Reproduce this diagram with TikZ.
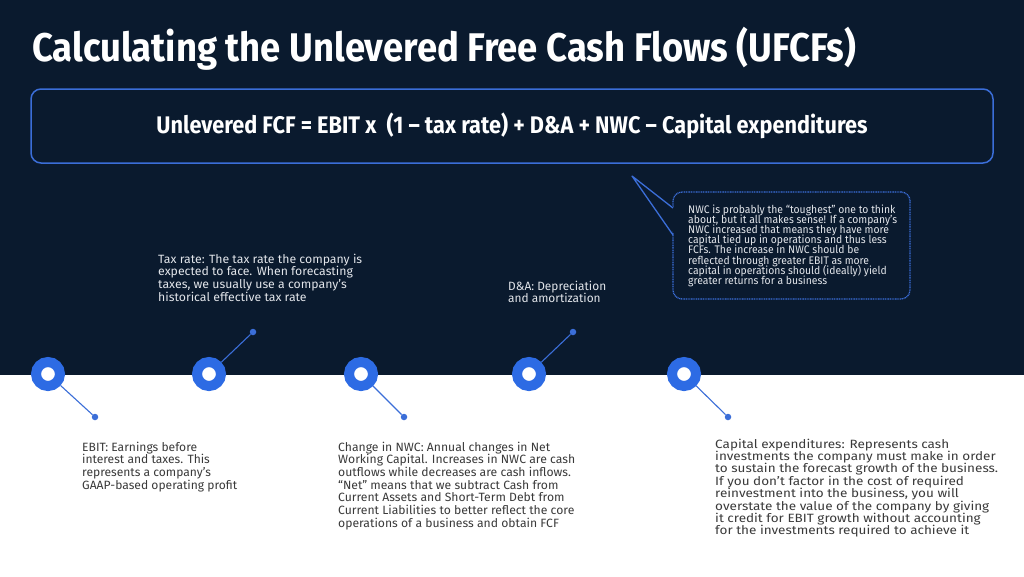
\documentclass[tikz,border=0pt]{standalone}
\usepackage{fontspec}
\setmainfont{Fira Sans}
\usepackage{graphicx}
\usetikzlibrary{calc, positioning}
\definecolor{uf_navy}{RGB}{10,26,46}
\definecolor{uf_blue}{RGB}{45,107,228}
\definecolor{uf_line}{RGB}{59,110,216}
\definecolor{uf_light}{RGB}{226,229,234}
\definecolor{uf_dark}{RGB}{58,58,58}
\newcommand{\fitlines}[2]{%
    \resizebox{#1}{\height}{\vtop{\lineskiplimit=-\maxdimen #2}}%
}
\newcommand{\tline}[1]{\hbox{#1}}
\tikzset{
    ring/.style={
        circle, draw=uf_blue, line width=10pt, fill=white,
        minimum size=24pt, inner sep=0pt
    },
    dotnode/.style={circle, fill=uf_line, minimum size=6.5pt, inner sep=0pt},
    link/.style={draw=uf_line, line width=1.1pt},
    note/.style={
        anchor=base west, inner sep=0pt, text=uf_dark,
        font=\fontsize{12}{12.7}\selectfont
    },
    darknote/.style={note, text=uf_light},
}

\begin{document}
\begin{tikzpicture}[x=1pt, y=-1pt]
    \useasboundingbox (0,0) rectangle (1024,576);
    \fill[white] (0,0) rectangle (1024,576);
    \fill[uf_navy] (0,0) rectangle (1024,375);

    \node[
        anchor=base west, inner sep=0pt, text=white,
        font=\fontsize{40}{44}\selectfont\bfseries
    ] (title) at (32,61) {%
        \resizebox{824pt}{\height}{Calculating the Unlevered Free Cash Flows (UFCFs)}%
    };

    \node[
        draw=uf_line, line width=1.5pt, rounded corners=10pt, fill=uf_navy,
        minimum width=962pt, minimum height=74pt, text=white,
        font=\fontsize{24}{26}\selectfont\bfseries
    ] (formula) at (512,126) {%
        \resizebox{711pt}{\height}{Unlevered FCF = EBIT x\ \ (1 -- tax rate) + D\&A + NWC -- Capital expenditures}%
    };

    % callout
    \node[
        draw=uf_line, line width=1.3pt, dash pattern=on 1pt off 0.7pt,
        rounded corners=9pt, fill=uf_navy, inner sep=0pt, outer sep=0pt,
        minimum width=237pt, minimum height=107pt
    ] (bubble) at (791.5,245.5) {};
    \coordinate (tip) at (632,176);
    \fill[uf_navy] (tip) -- ($(bubble.north west)+(2,16)$)
        -- ($(bubble.north west)+(2,43)$) -- cycle;
    \draw[uf_line, line width=1.3pt, line join=round]
        ($(bubble.north west)+(0,16)$) -- (tip) -- ($(bubble.north west)+(0,43)$);
    \node[darknote, font=\fontsize{11}{10.2}\selectfont] (nwcnote) at (688,213) {%
        \fitlines{209pt}{%
            \tline{NWC is probably the ``toughest'' one to think}%
            \tline{about, but it all makes sense! If a company's}%
            \tline{NWC increased that means they have more}%
            \tline{capital tied up in operations and thus less}%
            \tline{FCFs. The increase in NWC should be}%
            \tline{reflected through greater EBIT as more}%
            \tline{capital in operations should (ideally) yield}%
            \tline{greater returns for a business}%
        }%
    };

    % timeline
    \foreach \n/\x in {1/48, 2/209, 3/361, 4/529, 5/684}
        \node[ring] (r\n) at (\x,374) {};
    \foreach \n/\x/\y in {1/95/417, 2/253/332, 3/404/417, 4/573/332, 5/728/417}
        \node[dotnode] (d\n) at (\x,\y) {};
    \foreach \n in {1,...,5}
        \draw[link] (r\n) -- (d\n);

    \node[darknote] (taxnote) at (158,263) {%
        \fitlines{204pt}{%
            \tline{Tax rate: The tax rate the company is}%
            \tline{expected to face. When forecasting}%
            \tline{taxes, we usually use a company's}%
            \tline{historical effective tax rate}%
        }%
    };
    \node[darknote] (danote) at (508,290) {%
        \fitlines{98pt}{%
            \tline{D\&A: Depreciation}%
            \tline{and amortization}%
        }%
    };
    \node[note] (ebitnote) at (82,451) {%
        \fitlines{155pt}{%
            \tline{EBIT: Earnings before}%
            \tline{interest and taxes. This}%
            \tline{represents a company's}%
            \tline{GAAP-based operating profit}%
        }%
    };
    \node[note] (nwcchange) at (338,451) {%
        \fitlines{237pt}{%
            \tline{Change in NWC: Annual changes in Net}%
            \tline{Working Capital. Increases in NWC are cash}%
            \tline{outflows while decreases are cash inflows.}%
            \tline{``Net'' means that we subtract Cash from}%
            \tline{Current Assets and Short-Term Debt from}%
            \tline{Current Liabilities to better reflect the core}%
            \tline{operations of a business and obtain FCF}%
        }%
    };
    \node[note, font=\fontsize{12}{12.4}\selectfont] (capexnote) at (715,448) {%
        \fitlines{283pt}{%
            \tline{Capital expenditures: Represents cash}%
            \tline{investments the company must make in order}%
            \tline{to sustain the forecast growth of the business.}%
            \tline{If you don't factor in the cost of required}%
            \tline{reinvestment into the business, you will}%
            \tline{overstate the value of the company by giving}%
            \tline{it credit for EBIT growth without accounting}%
            \tline{for the investments required to achieve it}%
        }%
    };
\end{tikzpicture}
\end{document}
